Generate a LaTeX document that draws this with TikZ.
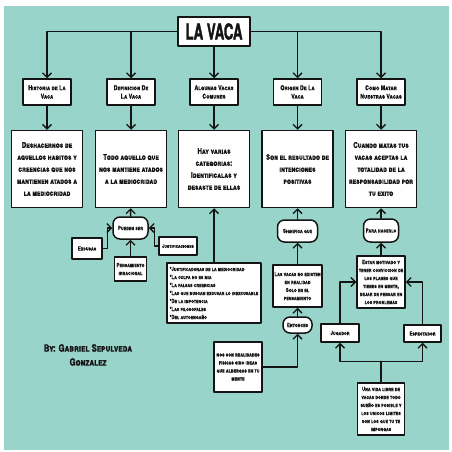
\documentclass[tikz,border=0pt]{standalone}
\usepackage{fontspec}
\setmainfont{TeX Gyre Heros}[FakeStretch=0.78,BoldFeatures={FakeBold=1.2}]
\newfontfamily\titlefont{TeX Gyre Heros}[FakeStretch=0.6,BoldFeatures={FakeBold=1.5}]
\usetikzlibrary{arrows.meta,positioning}
\definecolor{vacateal}{HTML}{98D4C9}
\definecolor{ink}{HTML}{141414}
\tikzset{
    every picture/.style={line cap=round,line join=round},
    headbox/.style={draw=ink,fill=white,line width=1.5pt,
      minimum width=48pt,minimum height=26pt,inner sep=1pt,
      text=ink,align=center,font=\fontsize{6.7}{8.5}\selectfont\bfseries\scshape},
    bigbox/.style={draw=ink,fill=white,line width=1.5pt,
      minimum width=71pt,minimum height=77pt,inner sep=0.5pt,
      text=ink,align=center,font=\fontsize{8}{12}\selectfont\bfseries\scshape},
    smallbox/.style={draw=ink,fill=white,line width=1.5pt,inner sep=1pt,
      text=ink,align=center,font=\fontsize{5.7}{8}\selectfont\bfseries\scshape},
    pillbox/.style={smallbox,rounded corners=7pt},
    flowarrow/.style={-{Straight Barb[length=4.5pt,width=9pt]},draw=ink,
      line width=1.3pt}
}
\begin{document}
\begin{tikzpicture}[x=1pt,y=-1pt]
  \useasboundingbox (0,0) rectangle (452,452);
  \fill[white] (0,0) rectangle (452,452);
  \fill[vacateal] (4,6) rectangle (449,450);
  % titulo y temas
  \node[draw=ink,fill=white,line width=1.5pt,minimum width=72pt,
        minimum height=29pt,inner sep=0pt,text=ink,
        font=\titlefont\fontsize{22}{22}\selectfont\bfseries] (vaca) at (214,31.5) {LA VACA};
  \node[headbox] (historia) at (47,92) {Historia de La\\Vaca};
  \node[headbox] (definicion) at (131,92) {Definicion De\\La Vaca};
  \node[headbox] (comunes) at (214,92) {Algunas Vacas\\Comunes};
  \node[headbox] (origen) at (297.5,92) {Origen De La\\Vaca};
  \node[headbox] (matar) at (381,92) {Como Matar\\Nuestras Vacas};
  \node[bigbox,below=24pt of historia] (deshacer) {Deshacernos de\\aquellos habitos y\\creencias que nos\\mantienen atados a\\la mediocridad};
  \node[bigbox,below=24pt of definicion] (todo) {Todo aquello que\\nos mantiene atados\\a la mediocridad};
  \node[bigbox,below=24pt of comunes] (varias) {Hay varias\\categorias:\\Identificalas y\\desaste de ellas};
  \node[bigbox,below=24pt of origen] (resultado) {Son el resultado de\\intenciones\\positivas};
  \node[bigbox,below=24pt of matar] (cuando) {Cuando matas tus\\vacas aceptas la\\totalidad de la\\responsabilidad por\\tu exito};
  % ramas de abajo
  \node[pillbox,minimum width=35pt,minimum height=22pt] (pueden) at (130.5,228) {Pueden ser};
  \node[smallbox,minimum width=30pt,minimum height=21pt] (excusas) at (87,248.5) {Excusas};
  \node[smallbox,minimum width=38pt,minimum height=18pt,
        font=\fontsize{5.3}{8}\selectfont\bfseries\scshape] (justif) at (178,246) {Justificaciones};
  \node[smallbox,minimum width=32pt,minimum height=24pt] (pensam) at (130.5,269) {Pensamiento\\irracional};
  \node[smallbox,minimum width=94pt,minimum height=60pt,align=left,
        font=\fontsize{5.6}{8}\selectfont\bfseries\scshape] (lista) at (214,293) {%
    *Justificadoras de la mediocridad\\
    *La culpa no es mia\\
    *La falsas creencias\\
    *Las que buscan excusar lo inexcusable\\
    *De la impotencia\\
    *Las filosofales\\
    *Del autoengaño};
  \node[pillbox,minimum width=40pt,minimum height=22pt] (significa) at (297.5,231) {Significa que};
  \node[smallbox,minimum width=49pt,minimum height=42pt] (noexisten) at (297.5,286) {Las vacas no existen\\en realidad\\Solo en el\\pensamiento};
  \node[pillbox,minimum width=29pt,minimum height=16pt] (entonces) at (297.5,325) {Entonces};
  \node[smallbox,minimum width=48pt,minimum height=50pt] (ideas) at (238,367) {nos son realidades\\fisicas sino ideas\\que albergas en tu\\mente};
  \node[pillbox,minimum width=35pt,minimum height=23pt] (hacerlo) at (381,230.5) {Para hacerlo};
  \node[smallbox,minimum width=48pt,minimum height=52pt] (motivado) at (381,282) {Estar motivado y\\tener conviccion de\\los planes que\\tienes en mente,\\dejar de pensar en\\los problemas};
  \node[smallbox,minimum width=38pt,minimum height=18pt] (jugador) at (340,333) {Jugador};
  \node[smallbox,minimum width=37pt,minimum height=17pt] (espectador) at (422.5,333.5) {Espectador};
  \node[smallbox,minimum width=47pt,minimum height=52pt] (vida) at (381,409) {Una vida libre de\\vacas donde todo\\sueño es posible y\\los unicos limites\\son los que tu te\\impongas};
  \node[text=ink,align=center,font=\fontsize{10}{14}\selectfont\bfseries\scshape] (autor) at (88,355) {By: Gabriel Sepulveda\\Gonzalez};
  % flechas
  \draw[flowarrow] (vaca.west) -| (historia.north);
  \draw[flowarrow] (vaca.west) -| (definicion.north);
  \draw[flowarrow] (vaca) -- (comunes);
  \draw[flowarrow] (vaca.east) -| (origen.north);
  \draw[flowarrow] (vaca.east) -| (matar.north);
  \draw[flowarrow] (historia) -- (deshacer);
  \draw[flowarrow] (definicion) -- (todo);
  \draw[flowarrow] (comunes) -- (varias);
  \draw[flowarrow] (origen) -- (resultado);
  \draw[flowarrow] (matar) -- (cuando);
  \draw[flowarrow] (pueden) -- (todo);
  \draw[flowarrow] (excusas.east) -- ++(5,0) |- (pueden.west);
  \draw[flowarrow] (justif.west) -- ++(-4,0) |- (pueden.east);
  \draw[flowarrow] (pensam) -- (pueden);
  \draw[flowarrow] (lista) -- (varias);
  \draw[flowarrow] (significa) -- (resultado);
  \draw[flowarrow] (noexisten) -- (significa);
  \draw[flowarrow] (entonces) -- (noexisten);
  \draw[flowarrow] (ideas.east) -| (entonces.south);
  \draw[flowarrow] (hacerlo) -- (cuando);
  \draw[flowarrow] (motivado) -- (hacerlo);
  \draw[flowarrow] (jugador.north) |- (motivado.west);
  \draw[flowarrow] (espectador.north) |- (motivado.east);
  \draw[line width=1.3pt,draw=ink] (vida.north) -- ++(0,-21) coordinate (cruce);
  \draw[flowarrow] (cruce) -| (jugador.south);
  \draw[flowarrow] (cruce) -| (espectador.south);
\end{tikzpicture}
\end{document}
